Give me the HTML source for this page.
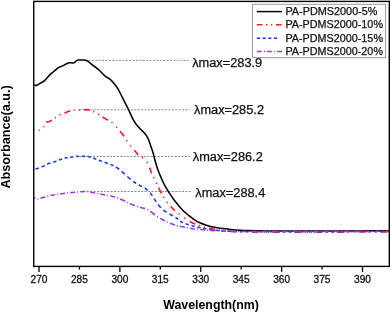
<!DOCTYPE html>
<html><head><meta charset="utf-8"><style>
html,body{margin:0;padding:0;background:#fff;}
body{width:391px;height:313px;overflow:hidden;font-family:"Liberation Sans", sans-serif;}
svg{display:block;will-change:transform;}
</style></head><body>
<svg width="391" height="313" viewBox="0 0 391 313"><rect x="0" y="0" width="391" height="313" fill="#fff"/><line x1="88.4" y1="60.4" x2="188.8" y2="60.4" stroke="#8a8a8a" stroke-width="1" stroke-dasharray="2 1.4"/><line x1="80" y1="109.8" x2="189.8" y2="109.8" stroke="#8a8a8a" stroke-width="1" stroke-dasharray="2 1.4"/><line x1="79.5" y1="156.5" x2="190" y2="156.5" stroke="#8a8a8a" stroke-width="1" stroke-dasharray="2 1.4"/><line x1="80" y1="191.5" x2="191.1" y2="191.5" stroke="#888a92" stroke-width="1" stroke-dasharray="2 1.4"/><path d="M34.20,84.50 C34.52,84.68 35.27,85.72 36.10,85.60 C36.93,85.48 37.78,84.62 39.20,83.80 C40.62,82.98 42.80,82.23 44.60,80.70 C46.40,79.17 48.47,76.13 50.00,74.60 C51.53,73.07 52.40,72.67 53.80,71.50 C55.20,70.33 57.00,68.50 58.40,67.60 C59.80,66.70 60.67,66.83 62.20,66.10 C63.73,65.37 66.18,63.75 67.60,63.20 C69.02,62.65 69.88,62.85 70.70,62.80 C71.52,62.75 71.87,62.93 72.50,62.90 C73.13,62.87 73.77,63.02 74.50,62.60 C75.23,62.18 76.08,60.83 76.90,60.40 C77.72,59.97 78.17,60.07 79.40,60.00 C80.63,59.93 83.08,59.90 84.30,60.00 C85.52,60.10 85.88,60.22 86.70,60.60 C87.52,60.98 88.17,61.52 89.20,62.30 C90.23,63.08 91.28,64.03 92.90,65.30 C94.52,66.57 97.20,68.42 98.90,69.90 C100.60,71.38 101.88,73.05 103.10,74.20 C104.32,75.35 105.08,75.98 106.20,76.80 C107.32,77.62 108.60,78.12 109.80,79.10 C111.00,80.08 112.18,81.30 113.40,82.70 C114.62,84.10 115.98,85.78 117.10,87.50 C118.22,89.22 119.08,91.07 120.10,93.00 C121.12,94.93 121.87,96.48 123.20,99.10 C124.53,101.72 126.50,105.42 128.10,108.70 C129.70,111.98 131.48,116.25 132.80,118.80 C134.12,121.35 134.83,122.40 136.00,124.00 C137.17,125.60 138.53,127.02 139.80,128.40 C141.07,129.78 142.43,131.02 143.60,132.30 C144.77,133.58 145.83,134.52 146.80,136.10 C147.77,137.68 148.65,139.88 149.40,141.80 C150.15,143.72 150.67,145.68 151.30,147.60 C151.93,149.52 152.55,151.07 153.20,153.30 C153.85,155.53 154.43,158.30 155.20,161.00 C155.97,163.70 156.65,166.33 157.80,169.50 C158.95,172.67 160.85,177.18 162.10,180.00 C163.35,182.82 164.12,184.27 165.30,186.40 C166.48,188.53 167.82,190.67 169.20,192.80 C170.58,194.93 172.12,197.18 173.60,199.20 C175.08,201.22 176.50,202.98 178.10,204.90 C179.70,206.82 181.50,209.00 183.20,210.70 C184.90,212.40 186.28,213.48 188.30,215.10 C190.32,216.72 193.28,219.08 195.30,220.40 C197.32,221.72 198.68,222.25 200.40,223.00 C202.12,223.75 203.67,224.27 205.60,224.90 C207.53,225.53 209.88,226.30 212.00,226.80 C214.12,227.30 216.10,227.57 218.30,227.90 C220.50,228.23 223.20,228.53 225.20,228.80 C227.20,229.07 228.58,229.30 230.30,229.50 C232.02,229.70 233.62,229.87 235.50,230.00 C237.38,230.13 239.57,230.20 241.60,230.30 C243.63,230.40 245.47,230.52 247.70,230.60 C249.93,230.68 251.28,230.75 255.00,230.80 C258.72,230.85 262.50,230.88 270.00,230.90 C277.50,230.92 290.00,230.90 300.00,230.90 C310.00,230.90 320.00,230.90 330.00,230.90 C340.00,230.90 350.13,230.93 360.00,230.90 C369.87,230.87 384.33,230.73 389.20,230.70" fill="none" stroke="#000" stroke-width="1.55"/><path d="M34.30,129.60 C35.03,129.73 37.12,130.88 38.70,130.40 C40.28,129.92 42.60,128.03 43.80,126.70 C45.00,125.37 44.87,123.30 45.90,122.40 C46.93,121.50 48.55,122.02 50.00,121.30 C51.45,120.58 52.98,119.13 54.60,118.10 C56.22,117.07 58.08,115.92 59.70,115.10 C61.32,114.28 62.65,113.88 64.30,113.20 C65.95,112.52 68.03,111.50 69.60,111.00 C71.17,110.50 72.17,110.38 73.70,110.20 C75.23,110.02 77.18,109.98 78.80,109.90 C80.42,109.82 81.78,109.70 83.40,109.70 C85.02,109.70 86.97,109.62 88.50,109.90 C90.03,110.18 91.07,110.72 92.60,111.40 C94.13,112.08 96.12,113.10 97.70,114.00 C99.28,114.90 100.40,115.78 102.10,116.80 C103.80,117.82 106.30,119.18 107.90,120.10 C109.50,121.02 110.32,121.15 111.70,122.30 C113.08,123.45 114.82,125.52 116.20,127.00 C117.58,128.48 118.62,129.53 120.00,131.20 C121.38,132.87 123.33,135.37 124.50,137.00 C125.67,138.63 125.92,139.45 127.00,141.00 C128.08,142.55 129.62,144.57 131.00,146.30 C132.38,148.03 134.02,149.88 135.30,151.40 C136.58,152.92 137.37,154.23 138.70,155.40 C140.03,156.57 141.80,157.07 143.30,158.40 C144.80,159.73 146.33,160.97 147.70,163.40 C149.07,165.83 150.15,169.92 151.50,173.00 C152.85,176.08 154.57,179.35 155.80,181.90 C157.03,184.45 157.73,185.95 158.90,188.30 C160.07,190.65 161.52,193.77 162.80,196.00 C164.08,198.23 165.22,199.90 166.60,201.70 C167.98,203.50 169.72,205.30 171.10,206.80 C172.48,208.30 173.42,209.38 174.90,210.70 C176.38,212.02 178.30,213.40 180.00,214.70 C181.70,216.00 183.18,217.22 185.10,218.50 C187.02,219.78 189.37,221.33 191.50,222.40 C193.63,223.47 195.55,224.05 197.90,224.90 C200.25,225.75 203.25,226.85 205.60,227.50 C207.95,228.15 209.88,228.38 212.00,228.80 C214.12,229.22 216.13,229.63 218.30,230.00 C220.47,230.37 222.22,230.72 225.00,231.00 C227.78,231.28 229.17,231.52 235.00,231.70 C240.83,231.88 249.17,232.03 260.00,232.10 C270.83,232.17 286.67,232.10 300.00,232.10 C313.33,232.10 325.13,232.15 340.00,232.10 C354.87,232.05 381.00,231.85 389.20,231.80" fill="none" stroke="#ff1a2a" stroke-width="1.65" stroke-dasharray="6.20 3.87 1.20 4.74 1.20 4.29 6.20 3.66 1.20 4.48 1.20 4.06 6.20 3.31 1.20 4.06 1.20 3.68 6.20 3.63 1.20 4.44 1.20 4.03 6.20 4.30 1.20 5.27 1.20 4.78 6.20 4.48 1.20 5.49 1.20 4.98 6.20 4.51 1.20 5.53 1.20 5.01 6.20 4.02 1.20 4.92 1.20 4.46 6.20 4.08 1.20 5.00 1.20 4.53 6.20 4.81 1.20 5.90 1.20 5.34 6.20 3.52 1.20 4.32 1.20 3.91 6.20 3.87 1.20 4.74 1.20 4.29 6.20 3.87 1.20 4.74 1.20 4.29 6.20 3.87 1.20 4.74 1.20 4.29 6.20 3.87 1.20 4.74 1.20 4.29 6.20 3.87 1.20 4.74 1.20 4.29 6.20 3.87 1.20 4.74 1.20 4.29 6.20 3.87 1.20 4.74 1.20 4.29 6.20 3.87 1.20 4.74 1.20 4.29 6.20 3.87 1.20 4.74 1.20 4.29 6.20 3.87 1.20 4.74 1.20 4.29" stroke-dashoffset="5.75"/><path d="M34.30,169.00 C34.60,168.97 34.65,169.23 36.10,168.80 C37.55,168.37 40.90,167.28 43.00,166.40 C45.10,165.52 46.75,164.27 48.70,163.50 C50.65,162.73 52.73,162.47 54.70,161.80 C56.67,161.13 58.58,160.17 60.50,159.50 C62.42,158.83 64.28,158.23 66.20,157.80 C68.12,157.37 70.03,157.15 72.00,156.90 C73.97,156.65 75.80,156.38 78.00,156.30 C80.20,156.22 83.52,156.38 85.20,156.40 C86.88,156.42 86.60,156.07 88.10,156.40 C89.60,156.73 92.17,157.68 94.20,158.40 C96.23,159.12 98.25,159.93 100.30,160.70 C102.35,161.47 104.45,162.23 106.50,163.00 C108.55,163.77 110.68,164.40 112.60,165.30 C114.52,166.20 116.20,167.12 118.00,168.40 C119.80,169.68 121.48,171.33 123.40,173.00 C125.32,174.67 127.47,176.73 129.50,178.40 C131.53,180.07 133.55,181.67 135.60,183.00 C137.65,184.33 140.07,185.43 141.80,186.40 C143.53,187.37 144.53,187.63 146.00,188.80 C147.47,189.97 149.18,191.67 150.60,193.40 C152.02,195.13 153.12,197.17 154.50,199.20 C155.88,201.23 157.30,203.68 158.90,205.60 C160.50,207.52 162.18,209.22 164.10,210.70 C166.02,212.18 168.28,213.23 170.40,214.50 C172.52,215.77 175.20,217.20 176.80,218.30 C178.40,219.40 178.62,220.22 180.00,221.10 C181.38,221.98 183.18,222.85 185.10,223.60 C187.02,224.35 189.15,224.95 191.50,225.60 C193.85,226.25 196.85,226.97 199.20,227.50 C201.55,228.03 203.27,228.38 205.60,228.80 C207.93,229.22 211.08,229.73 213.20,230.00 C215.32,230.27 216.33,230.23 218.30,230.40 C220.27,230.57 222.22,230.83 225.00,231.00 C227.78,231.17 229.17,231.30 235.00,231.40 C240.83,231.50 249.17,231.57 260.00,231.60 C270.83,231.63 286.67,231.60 300.00,231.60 C313.33,231.60 325.13,231.63 340.00,231.60 C354.87,231.57 381.00,231.43 389.20,231.40" fill="none" stroke="#1a38ee" stroke-width="1.55" stroke-dasharray="3.40 2.70 3.57 2.83 3.54 2.81 3.43 2.72 3.32 2.63 3.18 2.52 3.26 2.59 3.26 2.59 3.22 2.56 3.22 2.56 3.41 2.71 3.41 2.71 3.41 2.71 3.41 2.71 4.10 3.25 4.21 3.34 4.21 3.34 3.57 2.83 3.85 3.05 4.01 3.19 3.99 3.16 3.96 3.14 4.26 3.39 4.10 3.25 3.82 3.03 3.26 2.59 3.48 2.77 3.40 2.70 3.32 2.63 3.40 2.70 3.40 2.70 3.40 2.70 3.40 2.70 3.40 2.70 3.40 2.70 3.40 2.70 3.40 2.70 3.40 2.70 3.40 2.70 3.40 2.70 3.40 2.70 3.40 2.70 3.40 2.70 3.40 2.70 3.40 2.70 3.40 2.70 3.40 2.70 3.40 2.70 3.40 2.70 3.40 2.70 3.40 2.70 3.40 2.70 3.40 2.70 3.40 2.70 3.40 2.70 3.40 2.70 3.40 2.70 3.40 2.70 3.40 2.70 3.40 2.70 3.40 2.70 3.40 2.70 3.40 2.70" stroke-dashoffset="-1.35"/><path d="M33.80,197.60 C34.45,197.78 36.03,198.75 37.70,198.70 C39.37,198.65 41.50,197.87 43.80,197.30 C46.10,196.73 48.93,195.83 51.50,195.30 C54.07,194.77 56.65,194.50 59.20,194.10 C61.75,193.70 64.25,193.20 66.80,192.90 C69.35,192.60 71.93,192.50 74.50,192.30 C77.07,192.10 80.20,191.83 82.20,191.70 C84.20,191.57 84.82,191.35 86.50,191.50 C88.18,191.65 90.48,192.27 92.30,192.60 C94.12,192.93 95.68,193.17 97.40,193.50 C99.12,193.83 100.93,194.28 102.60,194.60 C104.27,194.92 105.75,195.10 107.40,195.40 C109.05,195.70 110.83,195.98 112.50,196.40 C114.17,196.82 115.73,197.30 117.40,197.90 C119.07,198.50 120.80,199.25 122.50,200.00 C124.20,200.75 126.18,201.70 127.60,202.40 C129.02,203.10 129.40,203.53 131.00,204.20 C132.60,204.87 135.70,205.88 137.20,206.40 C138.70,206.92 138.68,206.95 140.00,207.30 C141.32,207.65 143.33,207.83 145.10,208.50 C146.87,209.17 148.72,209.98 150.60,211.30 C152.48,212.62 154.58,215.12 156.40,216.40 C158.22,217.68 159.97,218.18 161.50,219.00 C163.03,219.82 164.07,220.55 165.60,221.30 C167.13,222.05 168.78,222.75 170.70,223.50 C172.62,224.25 175.55,225.35 177.10,225.80 C178.65,226.25 178.45,225.92 180.00,226.20 C181.55,226.48 184.27,227.07 186.40,227.50 C188.53,227.93 190.47,228.45 192.80,228.80 C195.13,229.15 197.85,229.35 200.40,229.60 C202.95,229.85 205.12,230.08 208.10,230.30 C211.08,230.52 214.65,230.73 218.30,230.90 C221.95,231.07 223.05,231.20 230.00,231.30 C236.95,231.40 248.33,231.47 260.00,231.50 C271.67,231.53 286.67,231.50 300.00,231.50 C313.33,231.50 325.13,231.53 340.00,231.50 C354.87,231.47 381.00,231.33 389.20,231.30" fill="none" stroke="#a035f0" stroke-width="1.5" stroke-dasharray="5.00 2.10 1.00 2.20 4.90 2.06 0.98 2.16 4.81 2.02 0.96 2.11 4.90 2.06 0.98 2.16 4.90 2.06 0.98 2.16 4.90 2.06 0.98 2.16 4.90 2.06 0.98 2.16 4.83 2.03 0.97 2.13 5.17 2.17 1.03 2.27 5.36 2.25 1.07 2.36 5.15 2.16 1.03 2.26 5.32 2.23 1.06 2.34 5.95 2.50 1.19 2.62 5.41 2.27 1.08 2.38 5.00 2.10 1.00 2.20 5.00 2.10 1.00 2.20 5.00 2.10 1.00 2.20 5.00 2.10 1.00 2.20 5.00 2.10 1.00 2.20 5.00 2.10 1.00 2.20 5.00 2.10 1.00 2.20 5.00 2.10 1.00 2.20 5.00 2.10 1.00 2.20 5.00 2.10 1.00 2.20 5.00 2.10 1.00 2.20 5.00 2.10 1.00 2.20 5.00 2.10 1.00 2.20 5.00 2.10 1.00 2.20 5.00 2.10 1.00 2.20 5.00 2.10 1.00 2.20 5.00 2.10 1.00 2.20 5.00 2.10 1.00 2.20 5.00 2.10 1.00 2.20 5.00 2.10 1.00 2.20 5.00 2.10 1.00 2.20 5.00 2.10 1.00 2.20 5.00 2.10 1.00 2.20" stroke-dashoffset="3.20"/><rect x="33.75" y="1.4" width="355.55" height="265.0" fill="none" stroke="#000" stroke-width="1.4"/><line x1="39.00" y1="266.4" x2="39.00" y2="271.9" stroke="#000" stroke-width="1.3"/><text x="39.00" y="283.1" font-family='"Liberation Sans", sans-serif' font-size="10.1" text-anchor="middle" textLength="16.9" lengthAdjust="spacingAndGlyphs" fill="#111" stroke="#111" stroke-width="0.3">270</text><line x1="79.44" y1="266.4" x2="79.44" y2="269.6" stroke="#000" stroke-width="1.3"/><text x="79.44" y="283.1" font-family='"Liberation Sans", sans-serif' font-size="10.1" text-anchor="middle" textLength="16.9" lengthAdjust="spacingAndGlyphs" fill="#111" stroke="#111" stroke-width="0.3">285</text><line x1="119.88" y1="266.4" x2="119.88" y2="271.9" stroke="#000" stroke-width="1.3"/><text x="119.88" y="283.1" font-family='"Liberation Sans", sans-serif' font-size="10.1" text-anchor="middle" textLength="16.9" lengthAdjust="spacingAndGlyphs" fill="#111" stroke="#111" stroke-width="0.3">300</text><line x1="160.31" y1="266.4" x2="160.31" y2="269.6" stroke="#000" stroke-width="1.3"/><text x="160.31" y="283.1" font-family='"Liberation Sans", sans-serif' font-size="10.1" text-anchor="middle" textLength="16.9" lengthAdjust="spacingAndGlyphs" fill="#111" stroke="#111" stroke-width="0.3">315</text><line x1="200.75" y1="266.4" x2="200.75" y2="271.9" stroke="#000" stroke-width="1.3"/><text x="200.75" y="283.1" font-family='"Liberation Sans", sans-serif' font-size="10.1" text-anchor="middle" textLength="16.9" lengthAdjust="spacingAndGlyphs" fill="#111" stroke="#111" stroke-width="0.3">330</text><line x1="241.19" y1="266.4" x2="241.19" y2="269.6" stroke="#000" stroke-width="1.3"/><text x="241.19" y="283.1" font-family='"Liberation Sans", sans-serif' font-size="10.1" text-anchor="middle" textLength="16.9" lengthAdjust="spacingAndGlyphs" fill="#111" stroke="#111" stroke-width="0.3">345</text><line x1="281.62" y1="266.4" x2="281.62" y2="271.9" stroke="#000" stroke-width="1.3"/><text x="281.62" y="283.1" font-family='"Liberation Sans", sans-serif' font-size="10.1" text-anchor="middle" textLength="16.9" lengthAdjust="spacingAndGlyphs" fill="#111" stroke="#111" stroke-width="0.3">360</text><line x1="322.06" y1="266.4" x2="322.06" y2="269.6" stroke="#000" stroke-width="1.3"/><text x="322.06" y="283.1" font-family='"Liberation Sans", sans-serif' font-size="10.1" text-anchor="middle" textLength="16.9" lengthAdjust="spacingAndGlyphs" fill="#111" stroke="#111" stroke-width="0.3">375</text><line x1="362.50" y1="266.4" x2="362.50" y2="271.9" stroke="#000" stroke-width="1.3"/><text x="362.50" y="283.1" font-family='"Liberation Sans", sans-serif' font-size="10.1" text-anchor="middle" textLength="16.9" lengthAdjust="spacingAndGlyphs" fill="#111" stroke="#111" stroke-width="0.3">390</text><text x="163.3" y="309.2" font-family='"Liberation Sans", sans-serif' font-size="12.6" font-weight="bold" textLength="95.5" lengthAdjust="spacingAndGlyphs" fill="#000">Wavelength(nm)</text><text transform="translate(10.2,188.6) rotate(-90)" x="0" y="0" font-family='"Liberation Sans", sans-serif' font-size="12" font-weight="bold" textLength="103.3" lengthAdjust="spacingAndGlyphs" fill="#000">Absorbance(a.u.)</text><text x="192.2" y="67.3" font-family='"Liberation Sans", sans-serif' font-size="12" textLength="70" lengthAdjust="spacingAndGlyphs" fill="#111" stroke="#111" stroke-width="0.25">λmax=283.9</text><text x="194.0" y="113.9" font-family='"Liberation Sans", sans-serif' font-size="12" textLength="70" lengthAdjust="spacingAndGlyphs" fill="#111" stroke="#111" stroke-width="0.25">λmax=285.2</text><text x="192.8" y="161.0" font-family='"Liberation Sans", sans-serif' font-size="12" textLength="70" lengthAdjust="spacingAndGlyphs" fill="#111" stroke="#111" stroke-width="0.25">λmax=286.2</text><text x="195.3" y="197.1" font-family='"Liberation Sans", sans-serif' font-size="12" textLength="70" lengthAdjust="spacingAndGlyphs" fill="#111" stroke="#111" stroke-width="0.25">λmax=288.4</text><rect x="252.5" y="4.3" width="133.1" height="53.3" fill="#fff" stroke="#999" stroke-width="1"/><line x1="256.8" y1="11.6" x2="282.0" y2="11.6" stroke="#000" stroke-width="1.45"/><text x="285.4" y="15.1" font-family='"Liberation Sans", sans-serif' font-size="10.3" textLength="92.1" lengthAdjust="spacingAndGlyphs" fill="#111" stroke="#111" stroke-width="0.25">PA-PDMS2000-5%</text><line x1="256.8" y1="24.8" x2="282.0" y2="24.8" stroke="#ff1a2a" stroke-width="1.6" stroke-dasharray="5.7 3.5 1.4 3.5 1.4 3.6"/><text x="285.4" y="28.4" font-family='"Liberation Sans", sans-serif' font-size="10.3" textLength="97.6" lengthAdjust="spacingAndGlyphs" fill="#111" stroke="#111" stroke-width="0.25">PA-PDMS2000-10%</text><line x1="256.8" y1="38.3" x2="277.2" y2="38.3" stroke="#1a38ee" stroke-width="1.5" stroke-dasharray="3.2 2.5"/><text x="285.4" y="41.8" font-family='"Liberation Sans", sans-serif' font-size="10.3" textLength="97.6" lengthAdjust="spacingAndGlyphs" fill="#111" stroke="#111" stroke-width="0.25">PA-PDMS2000-15%</text><line x1="256.8" y1="51.5" x2="282.0" y2="51.5" stroke="#a035f0" stroke-width="1.5" stroke-dasharray="4.9 2.3 1 2"/><text x="285.4" y="55.1" font-family='"Liberation Sans", sans-serif' font-size="10.3" textLength="97.6" lengthAdjust="spacingAndGlyphs" fill="#111" stroke="#111" stroke-width="0.25">PA-PDMS2000-20%</text></svg>
</body></html>
